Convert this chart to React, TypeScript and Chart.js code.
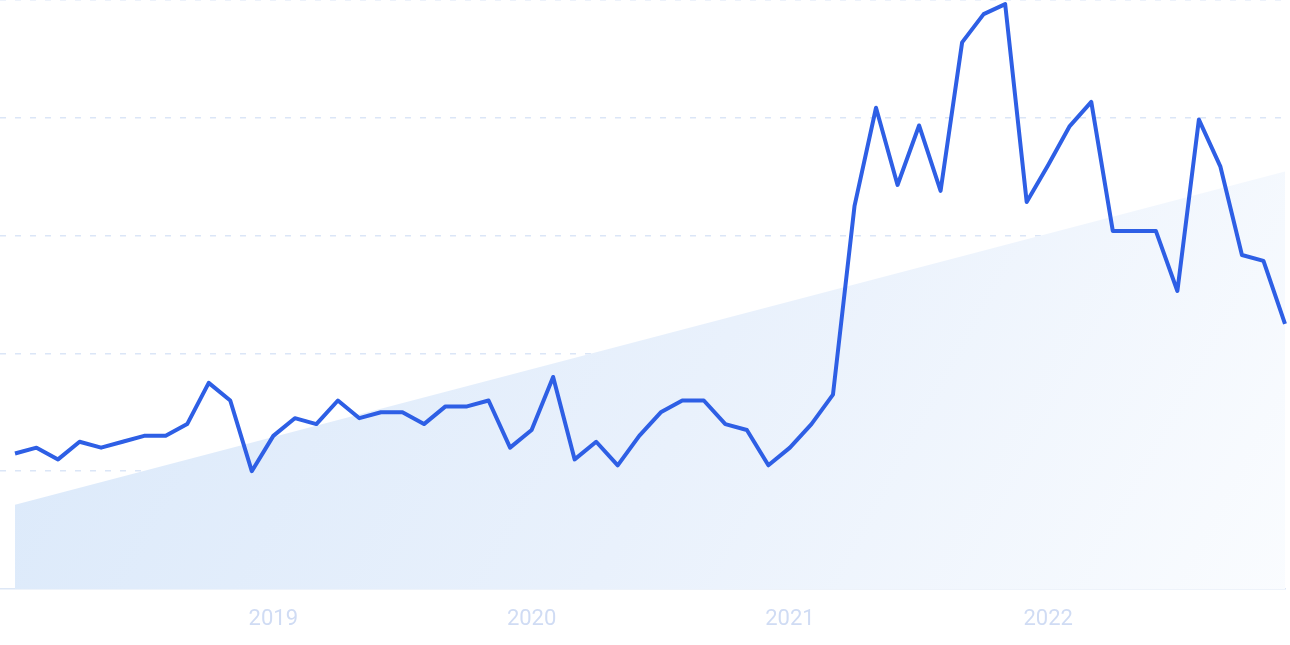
import React, { useEffect, useRef } from "react";
import { Chart, registerables } from "chart.js";

Chart.register(...registerables);

// Monthly index, Jan 2018 .. Dec 2022 (index 0..59)
const monthIndex: number[] = Array.from({ length: 60 }, (_, i) => i);
const values: number[] = [
  23, 24, 22, 25, 24, 25, 26, 26, 28, 35, 32, 20,
  26, 29, 28, 32, 29, 30, 30, 28, 31, 31, 32, 24,
  27, 36, 22, 25, 21, 26, 30, 32, 32, 28, 27, 21,
  24, 28, 33, 65, 81.7, 68.6, 78.7, 67.6, 92.8, 97.6, 99.3, 65.7,
  72, 78.6, 82.7, 60.8, 60.8, 60.8, 50.6, 79.7, 71.7, 56.7, 55.7, 45,
];
const trendIndex: number[] = [0, 59];
const trendValues: number[] = [14.3, 70.9];
const yearTickIndex: number[] = [12, 24, 36, 48];
const yearTickLabels: string[] = ["2019", "2020", "2021", "2022"];

export default function App() {
  const ref = useRef<HTMLCanvasElement | null>(null);

  useEffect(() => {
    document.body.style.margin = "0";
    const canvas = ref.current;
    if (!canvas) return;

    const chart = new Chart(canvas, {
      type: "line",
      data: {
        datasets: [
          {
            label: "Interest",
            data: monthIndex.map((m, i) => ({ x: m, y: values[i] })),
            borderColor: "#2e5fe5",
            borderWidth: 4,
            pointRadius: 0,
            tension: 0,
            fill: false,
            clip: false as any,
            order: 1,
            borderJoinStyle: "round",
            borderCapStyle: "butt",
          },
          {
            label: "Trend",
            data: trendIndex.map((m, i) => ({ x: m, y: trendValues[i] })),
            borderWidth: 0,
            borderColor: "rgba(0,0,0,0)",
            pointRadius: 0,
            fill: "origin",
            order: 2,
            backgroundColor: (ctx: any) => {
              const area = ctx.chart.chartArea;
              if (!area) return "#e6effb";
              const g = ctx.chart.ctx.createLinearGradient(
                area.left,
                area.top + 150,
                area.right,
                area.bottom + 250
              );
              g.addColorStop(0, "#d9e8fa");
              g.addColorStop(0.5, "#e9f1fc");
              g.addColorStop(1, "#fdfeff");
              return g;
            },
          },
        ],
      },
      options: {
        animation: false,
        responsive: false,
        maintainAspectRatio: false,
        layout: { padding: { left: 0, right: 5, top: 0, bottom: 0 } },
        plugins: { legend: { display: false }, tooltip: { enabled: false } },
        scales: {
          x: {
            type: "linear",
            min: -0.697,
            max: 59,
            grid: { display: false, drawTicks: false },
            border: { display: true, color: "#dde7f6", width: 1.5 },
            afterBuildTicks: (scale: any) => {
              scale.ticks = yearTickIndex.map((v) => ({ value: v }));
            },
            afterFit: (scale: any) => {
              scale.height = 56;
            },
            ticks: {
              padding: 17,
              autoSkip: false,
              maxRotation: 0,
              color: "#d0dcf4",
              font: { family: "Roboto", size: 22 },
              callback: (v: any) => {
                const k = yearTickIndex.indexOf(Number(v));
                return k >= 0 ? yearTickLabels[k] : "";
              },
            },
          },
          y: {
            min: 0,
            max: 100,
            ticks: { display: false, stepSize: 20 },
            grid: {
              color: (c: any) => (c.tick && c.tick.value === 0 ? "rgba(0,0,0,0)" : "#dbe6f7"),
              lineWidth: 1.5,
              drawTicks: false,
            },
            border: { display: false, dash: [6, 9] },
          },
        },
      },
    });
    return () => chart.destroy();
  }, []);

  return (
    <div style={{ width: 1290, height: 645, background: "#ffffff" }}>
      <canvas ref={ref} width={1290} height={645} style={{ display: "block" }} />
    </div>
  );
}
